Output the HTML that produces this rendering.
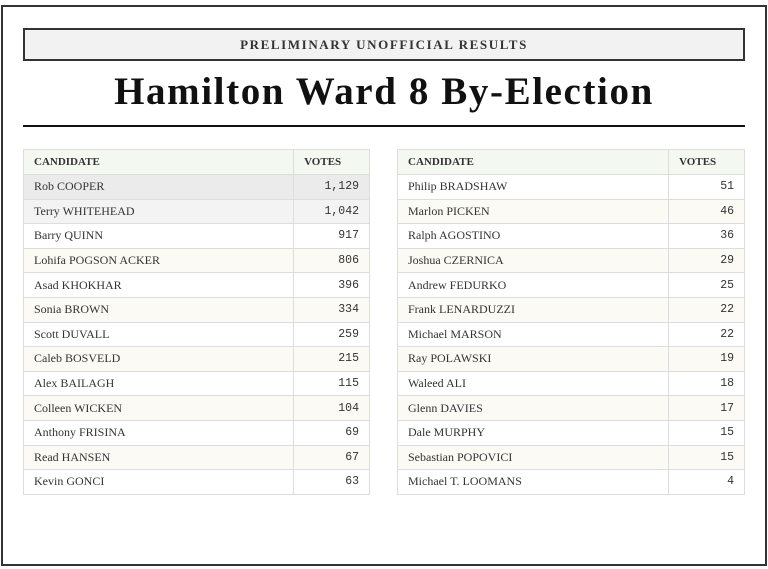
<!DOCTYPE html>
<html><head><meta charset="utf-8"><style>
*{margin:0;padding:0;box-sizing:border-box}
body{width:768px;height:569px;background:#fff;font-family:"Liberation Serif",serif;position:relative;overflow:hidden}
.frame{position:absolute;left:1px;top:5px;width:766px;height:561px;border:2px solid #333}
.banner{position:absolute;left:23px;top:28px;width:722px;height:33px;border:2px solid #333;background:#f2f2f2;text-align:center;line-height:30px;font-size:13px;font-weight:bold;letter-spacing:1.6px;color:#333}
h1{position:absolute;left:0;width:768px;top:69px;text-align:center;font-size:39px;font-weight:bold;letter-spacing:1.6px;color:#111}
.rule{position:absolute;left:23px;top:125px;width:722px;height:2px;background:#111}
table{position:absolute;top:149px;border-collapse:collapse;font-size:12px;color:#333}
td,th{border:1px solid #ddd;height:24.6px;padding:0 10px}
th{background:#f3f8f1;text-align:left;font-size:11px;font-weight:bold;height:25px}
td.v{text-align:right;font-family:"Liberation Mono",monospace;font-size:11.5px;color:#333}
tr:nth-child(even) td{background:#fbfaf5}
tr.g1 td{background:#ebebeb!important}
tr.g2 td{background:#f3f3f3!important}
</style></head><body>
<div class="frame"></div>
<div class="banner">PRELIMINARY UNOFFICIAL RESULTS</div>
<h1>Hamilton Ward 8 By-Election</h1>
<div class="rule"></div>
<table style="left:23px;width:347px">
<colgroup><col style="width:271px"><col style="width:76px"></colgroup>
<thead><tr><th>CANDIDATE</th><th>VOTES</th></tr></thead><tbody>
<tr class="g1"><td>Rob COOPER</td><td class="v">1,129</td></tr>
<tr class="g2"><td>Terry WHITEHEAD</td><td class="v">1,042</td></tr>
<tr><td>Barry QUINN</td><td class="v">917</td></tr>
<tr><td>Lohifa POGSON ACKER</td><td class="v">806</td></tr>
<tr><td>Asad KHOKHAR</td><td class="v">396</td></tr>
<tr><td>Sonia BROWN</td><td class="v">334</td></tr>
<tr><td>Scott DUVALL</td><td class="v">259</td></tr>
<tr><td>Caleb BOSVELD</td><td class="v">215</td></tr>
<tr><td>Alex BAILAGH</td><td class="v">115</td></tr>
<tr><td>Colleen WICKEN</td><td class="v">104</td></tr>
<tr><td>Anthony FRISINA</td><td class="v">69</td></tr>
<tr><td>Read HANSEN</td><td class="v">67</td></tr>
<tr><td>Kevin GONCI</td><td class="v">63</td></tr>
</tbody></table>
<table style="left:397px;width:348px">
<colgroup><col style="width:272px"><col style="width:76px"></colgroup>
<thead><tr><th>CANDIDATE</th><th>VOTES</th></tr></thead><tbody>
<tr><td>Philip BRADSHAW</td><td class="v">51</td></tr>
<tr><td>Marlon PICKEN</td><td class="v">46</td></tr>
<tr><td>Ralph AGOSTINO</td><td class="v">36</td></tr>
<tr><td>Joshua CZERNICA</td><td class="v">29</td></tr>
<tr><td>Andrew FEDURKO</td><td class="v">25</td></tr>
<tr><td>Frank LENARDUZZI</td><td class="v">22</td></tr>
<tr><td>Michael MARSON</td><td class="v">22</td></tr>
<tr><td>Ray POLAWSKI</td><td class="v">19</td></tr>
<tr><td>Waleed ALI</td><td class="v">18</td></tr>
<tr><td>Glenn DAVIES</td><td class="v">17</td></tr>
<tr><td>Dale MURPHY</td><td class="v">15</td></tr>
<tr><td>Sebastian POPOVICI</td><td class="v">15</td></tr>
<tr><td>Michael T. LOOMANS</td><td class="v">4</td></tr>
</tbody></table>
</body></html>
